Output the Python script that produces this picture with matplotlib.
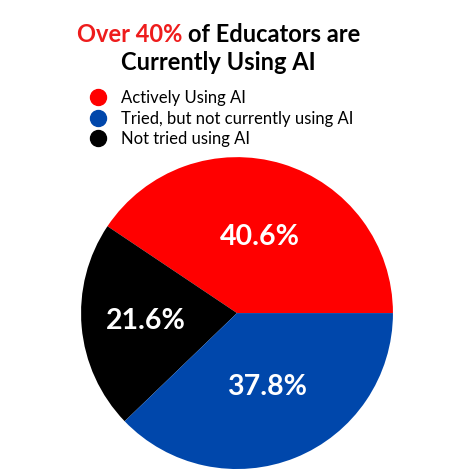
import matplotlib
matplotlib.use("Agg")
import matplotlib.pyplot as plt
from matplotlib.lines import Line2D

plt.rcParams['font.family'] = ['Lato', 'DejaVu Sans']

labels = ["Actively Using AI", "Tried, but not currently using AI", "Not tried using AI"]
# wedge order around the pie (counterclockwise from 3 o'clock)
pie_values = [40.6, 21.6, 37.8]
pie_colors = ["#ff0000", "#000000", "#0047ab"]
legend_colors = ["#ff0000", "#0047ab", "#000000"]

fig = plt.figure(figsize=(4.74, 4.74), dpi=100)
ax = fig.add_axes([0.171, 0.0105, 0.658, 0.658])

wedges, texts, autotexts = ax.pie(pie_values, colors=pie_colors, startangle=0,
                                  counterclock=True, autopct='%.1f%%',
                                  pctdistance=0.51,
                                  textprops=dict(color='white', fontsize=20.5,
                                                 fontweight='bold'))
# black slice label sits a bit farther out
x, y = autotexts[1].get_position()
autotexts[1].set_position((x * 1.15, y * 1.15))
ax.set_xlim(-1, 1)
ax.set_ylim(-1, 1)
ax.set_aspect('equal')

# title
fig.text(182 / 474, 1 - 34 / 474, "Over 40%", color="#ee1c1c", fontsize=17,
         fontweight='bold', ha='right', va='center')
fig.text(188 / 474, 1 - 34 / 474, "of Educators are", color="black", fontsize=17,
         fontweight='bold', ha='left', va='center')
fig.text(218 / 474, 1 - 63 / 474, "Currently Using AI", color="black", fontsize=17,
         fontweight='bold', ha='center', va='center')

handles = [Line2D([], [], marker='o', linestyle='none', markersize=11.5,
                  markerfacecolor=c, markeredgecolor=c) for c in legend_colors]
fig.legend(handles, labels, loc='upper left', bbox_to_anchor=(88 / 474, 1 - 90 / 474),
           frameon=False, fontsize=12, handletextpad=0.8, labelspacing=0.28,
           borderpad=0, borderaxespad=0, handlelength=1.2)

fig.savefig("out.png", dpi=100, facecolor='white')
